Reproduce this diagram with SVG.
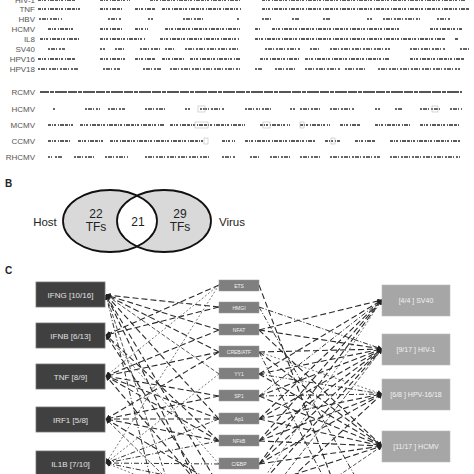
<svg xmlns="http://www.w3.org/2000/svg" width="474" height="474" viewBox="0 0 474 474">
<style>
.lbl{font-family:"Liberation Sans",Arial,sans-serif;font-size:8px;fill:#555;text-anchor:end}
.trk{fill:none;stroke:#5a5a5a;stroke-width:2.2;stroke-dasharray:3 1 1 1 2 2 1 1 4 1}
.trk2{fill:none;stroke:#666;stroke-width:2;stroke-dasharray:2 1 4 1 1 2}
.sm{fill:none;stroke:#bbb;stroke-width:0.6}
.vt{font-family:"Liberation Sans",Arial,sans-serif;font-size:12px;fill:#222;text-anchor:middle}
.pl{font-family:"Liberation Sans",Arial,sans-serif;font-size:10px;font-weight:bold;fill:#222}
.host rect{fill:#404040;stroke:#777;stroke-width:0.8}
.host text{font-family:"Liberation Sans",Arial,sans-serif;font-size:8px;fill:#e0e0e0;text-anchor:middle}
.tf rect{fill:#7f7f7f;stroke:#999;stroke-width:0.5}
.tf text{font-family:"Liberation Sans",Arial,sans-serif;font-size:5px;fill:#f2f2f2;text-anchor:middle}
.vir rect{fill:#a6a6a6;stroke:#bbb;stroke-width:0.6}
.vir text{font-family:"Liberation Sans",Arial,sans-serif;font-size:7px;fill:#f2f2f2;text-anchor:middle}
.d1{fill:none;stroke:#2a2a2a;stroke-width:1.1;stroke-dasharray:6 3}
.d2{fill:none;stroke:#333;stroke-width:1;stroke-dasharray:5 2 1 2}
.d3{fill:none;stroke:#777;stroke-width:1;stroke-dasharray:2 2}
.d4{fill:none;stroke:#555;stroke-width:1;stroke-dasharray:4 2}
.a{marker-end:url(#ah)}
</style>
<defs>
<marker id="ah" viewBox="0 0 10 10" refX="9" refY="5" markerWidth="5" markerHeight="5" orient="auto" markerUnits="userSpaceOnUse"><path d="M0,0 L10,5 L0,10 z" fill="#222"/></marker>
<clipPath id="cl"><ellipse cx="110" cy="221" rx="47" ry="31"/></clipPath>
</defs>
<rect width="474" height="474" fill="#fff"/>

<g id="panelA">
<text class="lbl" x="35" y="3">HIV-1</text>
<text class="lbl" x="35" y="12">TNF</text>
<text class="lbl" x="35" y="22">HBV</text>
<text class="lbl" x="35" y="32">HCMV</text>
<text class="lbl" x="35" y="42">IL8</text>
<text class="lbl" x="35" y="52">SV40</text>
<text class="lbl" x="35" y="62">HPV16</text>
<text class="lbl" x="35" y="72">HPV18</text>
<text class="lbl" x="35" y="95">RCMV</text>
<text class="lbl" x="35" y="112">HCMV</text>
<text class="lbl" x="35" y="128">MCMV</text>
<text class="lbl" x="35" y="144">CCMV</text>
<text class="lbl" x="35" y="160">RHCMV</text>
<path class="trk" d="M38 0H75M100 0H130M150 0H240M262 0H465"/>
<path class="trk" d="M38 9H80M100 9H123M135 9H156M162 9H242M262 9H470"/>
<path class="trk2" d="M39 19H62M108 19H122M148 19H153M183 19H205M237 19H240M262 19H272M292 19H300M323 19H330M367 19H372M383 19H420M437 19H450"/>
<path class="trk" d="M48 29H75M100 29H122M135 29H148M165 29H240M255 29H260M272 29H400M430 29H462"/>
<path class="trk" d="M40 39H80M100 39H145M160 39H240M255 39H445M455 39H458"/>
<path class="trk2" d="M48 49H65M100 49H105M115 49H125M140 49H160M165 49H175M185 49H240M265 49H300M310 49H320M330 49H390M410 49H445M460 49H470"/>
<path class="trk" d="M38 59H75M100 59H125M135 59H155M162 59H185M190 59H240M260 59H300M305 59H390M410 59H465"/>
<path class="trk2" d="M38 69H78M103 69H120M143 69H162M170 69H240M255 69H262M275 69H295M305 69H340M345 69H365M378 69H460"/>
<path d="M40 92H462" fill="none" stroke="#555" stroke-width="2" stroke-dasharray="9 1 4 1 12 1"/>
<path class="trk2" d="M53 109H55M85 109H100M108 109H125M145 109H165M185 109H190M200 109H225M245 109H260M262 109H272M290 109H295M300 109H320M330 109H355M375 109H380M395 109H402M420 109H440M450 109H462"/>
<path class="trk" d="M48 125H75M80 125H165M170 125H245M260 125H290M300 125H330M340 125H360M375 125H410M420 125H460"/>
<path class="trk" d="M48 141H70M78 141H105M110 141H205M222 141H235M245 141H315M325 141H340M355 141H375M390 141H460"/>
<path class="trk2" d="M48 157H52M55 157H62M74 157H95M105 157H128M145 157H210M222 157H235M250 157H260M270 157H290M300 157H320M330 157H380M390 157H460"/>
<rect class="sm" x="198" y="106" width="7" height="6"/>
<rect class="sm" x="432" y="106" width="6" height="6"/>
<rect class="sm" x="195" y="122" width="13" height="6"/>
<rect class="sm" x="263" y="122" width="7" height="6"/>
<rect class="sm" x="300" y="122" width="4" height="6"/>
<rect class="sm" x="204" y="138" width="4" height="6"/>
<rect class="sm" x="331" y="138" width="4" height="6"/>
</g>

<g id="panelB">
<text class="pl" x="5" y="187">B</text>
<ellipse cx="110" cy="221" rx="47" ry="31" fill="#d9d9d9"/>
<ellipse cx="164" cy="221" rx="47" ry="31" fill="#d9d9d9"/>
<ellipse cx="164" cy="221" rx="47" ry="31" fill="#fff" clip-path="url(#cl)"/>
<ellipse cx="110" cy="221" rx="47" ry="31" fill="none" stroke="#111" stroke-width="1.8"/>
<ellipse cx="164" cy="221" rx="47" ry="31" fill="none" stroke="#111" stroke-width="1.8"/>
<text class="vt" x="96" y="218">22</text>
<text class="vt" x="96" y="231">TFs</text>
<text class="vt" x="138" y="226">21</text>
<text class="vt" x="180" y="218">29</text>
<text class="vt" x="180" y="231">TFs</text>
<text class="vt" x="45" y="226" style="font-size:11.5px">Host</text>
<text class="vt" x="232" y="226" style="font-size:11.5px">Virus</text>
</g>

<g id="panelC-label"><text class="pl" x="5" y="274">C</text></g>

<g id="connectors">
<path class="d1 a" d="M219 307L106 295"/>
<path class="d1 a" d="M219 330L106 295"/>
<path class="d1 a" d="M219 352L106 295"/>
<path class="d4 a" d="M219 374L106 295"/>
<path class="d1 a" d="M219 419L106 295"/>
<path class="d1 a" d="M219 486L106 295"/>
<path class="d1 a" d="M219 530L106 295"/>
<path class="d4 a" d="M200 580L106 295"/>
<path class="d2 a" d="M180 600L106 295"/>
<path class="d1 a" d="M219 285L106 335"/>
<path class="d1 a" d="M219 307L106 335"/>
<path class="d1 a" d="M219 441L106 335"/>
<path class="d1 a" d="M219 508L106 335"/>
<path class="d3 a" d="M219 464L106 335"/>
<path class="d3 a" d="M219 285L106 376"/>
<path class="d1 a" d="M219 330L106 376"/>
<path class="d1 a" d="M219 352L106 376"/>
<path class="d1 a" d="M219 396L106 376"/>
<path class="d1 a" d="M219 419L106 376"/>
<path class="d1 a" d="M219 441L106 376"/>
<path class="d1 a" d="M219 508L106 376"/>
<path class="d1 a" d="M219 352L106 419"/>
<path class="d1 a" d="M219 396L106 419"/>
<path class="d1 a" d="M219 419L106 419"/>
<path class="d1 a" d="M219 441L106 419"/>
<path class="d1 a" d="M219 486L106 419"/>
<path class="d4 a" d="M219 530L106 419"/>
<path class="d3 a" d="M219 285L106 463"/>
<path class="d3 a" d="M219 374L106 463"/>
<path class="d2 a" d="M219 419L106 463"/>
<path class="d2 a" d="M219 441L106 463"/>
<path class="d2 a" d="M219 464L106 463"/>
<path class="d2 a" d="M219 486L106 463"/>
<path class="d3 a" d="M219 508L106 463"/>
<path class="d1 a" d="M259 330L382 300"/>
<path class="d1 a" d="M259 374L382 300"/>
<path class="d2 a" d="M259 396L382 300"/>
<path class="d1 a" d="M259 419L382 300"/>
<path class="d1 a" d="M259 441L382 300"/>
<path class="d1 a" d="M259 464L382 300"/>
<path class="d3 a" d="M259 486L382 300"/>
<path class="d2 a" d="M259 307L382 349"/>
<path class="d1 a" d="M259 330L382 349"/>
<path class="d1 a" d="M259 352L382 349"/>
<path class="d1 a" d="M259 374L382 349"/>
<path class="d1 a" d="M259 396L382 349"/>
<path class="d1 a" d="M259 419L382 349"/>
<path class="d1 a" d="M259 441L382 349"/>
<path class="d1 a" d="M259 464L382 349"/>
<path class="d1 a" d="M259 486L382 349"/>
<path class="d4 a" d="M259 508L382 349"/>
<path class="d3 a" d="M259 352L382 394"/>
<path class="d2 a" d="M259 374L382 394"/>
<path class="d2 a" d="M259 396L382 394"/>
<path class="d1 a" d="M259 419L382 394"/>
<path class="d1 a" d="M259 441L382 394"/>
<path class="d1 a" d="M259 464L382 394"/>
<path class="d1 a" d="M259 508L382 394"/>
<path class="d1 a" d="M259 330L382 446"/>
<path class="d1 a" d="M259 352L382 446"/>
<path class="d1 a" d="M259 374L382 446"/>
<path class="d1 a" d="M259 396L382 446"/>
<path class="d1 a" d="M259 419L382 446"/>
<path class="d1 a" d="M259 441L382 446"/>
<path class="d1 a" d="M259 464L382 446"/>
<path class="d1 a" d="M259 486L382 446"/>
<path class="d4 a" d="M259 530L382 446"/>
<path class="d1" d="M259 285L340 500"/>
<path class="d2" d="M259 307L380 520"/>
<path class="d2" d="M259 352L330 490"/>
</g>

<g id="host-IFNG" class="host"><rect x="36" y="282" width="69" height="25"/><text x="70.5" y="297.5">IFNG  [10/16]</text></g>
<g id="host-IFNB" class="host"><rect x="36" y="323" width="69" height="25"/><text x="70.5" y="338.5">IFNB [6/13]</text></g>
<g id="host-TNF" class="host"><rect x="36" y="364" width="69" height="25"/><text x="70.5" y="379.5">TNF [8/9]</text></g>
<g id="host-IRF1" class="host"><rect x="36" y="407" width="69" height="25"/><text x="70.5" y="422.5">IRF1 [5/8]</text></g>
<g id="host-IL1B" class="host"><rect x="36" y="451" width="69" height="25"/><text x="70.5" y="466.5">IL1B [7/10]</text></g>

<g id="tf-ETS" class="tf"><rect x="219" y="280" width="40" height="11"/><text x="239" y="287.5">ETS</text></g>
<g id="tf-HMGI" class="tf"><rect x="219" y="302" width="40" height="11"/><text x="239" y="309.5">HMGI</text></g>
<g id="tf-NFAT" class="tf"><rect x="219" y="324" width="40" height="11"/><text x="239" y="331.5">NFAT</text></g>
<g id="tf-CREB" class="tf"><rect x="219" y="346" width="40" height="11"/><text x="239" y="353.5">CREB/ATF</text></g>
<g id="tf-YY1" class="tf"><rect x="219" y="368" width="40" height="11"/><text x="239" y="375.5">YY1</text></g>
<g id="tf-SP1" class="tf"><rect x="219" y="390" width="40" height="11"/><text x="239" y="397.5">SP1</text></g>
<g id="tf-Ap1" class="tf"><rect x="219" y="413" width="40" height="11"/><text x="239" y="420.5">Ap1</text></g>
<g id="tf-NFkB" class="tf"><rect x="219" y="435" width="40" height="11"/><text x="239" y="442.5">NFkB</text></g>
<g id="tf-CEBP" class="tf"><rect x="219" y="458" width="40" height="11"/><text x="239" y="465.5">C/EBP</text></g>

<g id="vir-SV40" class="vir"><rect x="382" y="285" width="68" height="31"/><text x="416" y="303">[4/4 ] SV40</text></g>
<g id="vir-HIV1" class="vir"><rect x="382" y="334" width="68" height="31"/><text x="416" y="352">[9/17 ] HIV-1</text></g>
<g id="vir-HPV" class="vir"><rect x="382" y="379" width="68" height="31"/><text x="416" y="397">[6/8 ] HPV-16/18</text></g>
<g id="vir-HCMV" class="vir"><rect x="382" y="431" width="68" height="31"/><text x="416" y="449">[11/17 ] HCMV</text></g>
</svg>
